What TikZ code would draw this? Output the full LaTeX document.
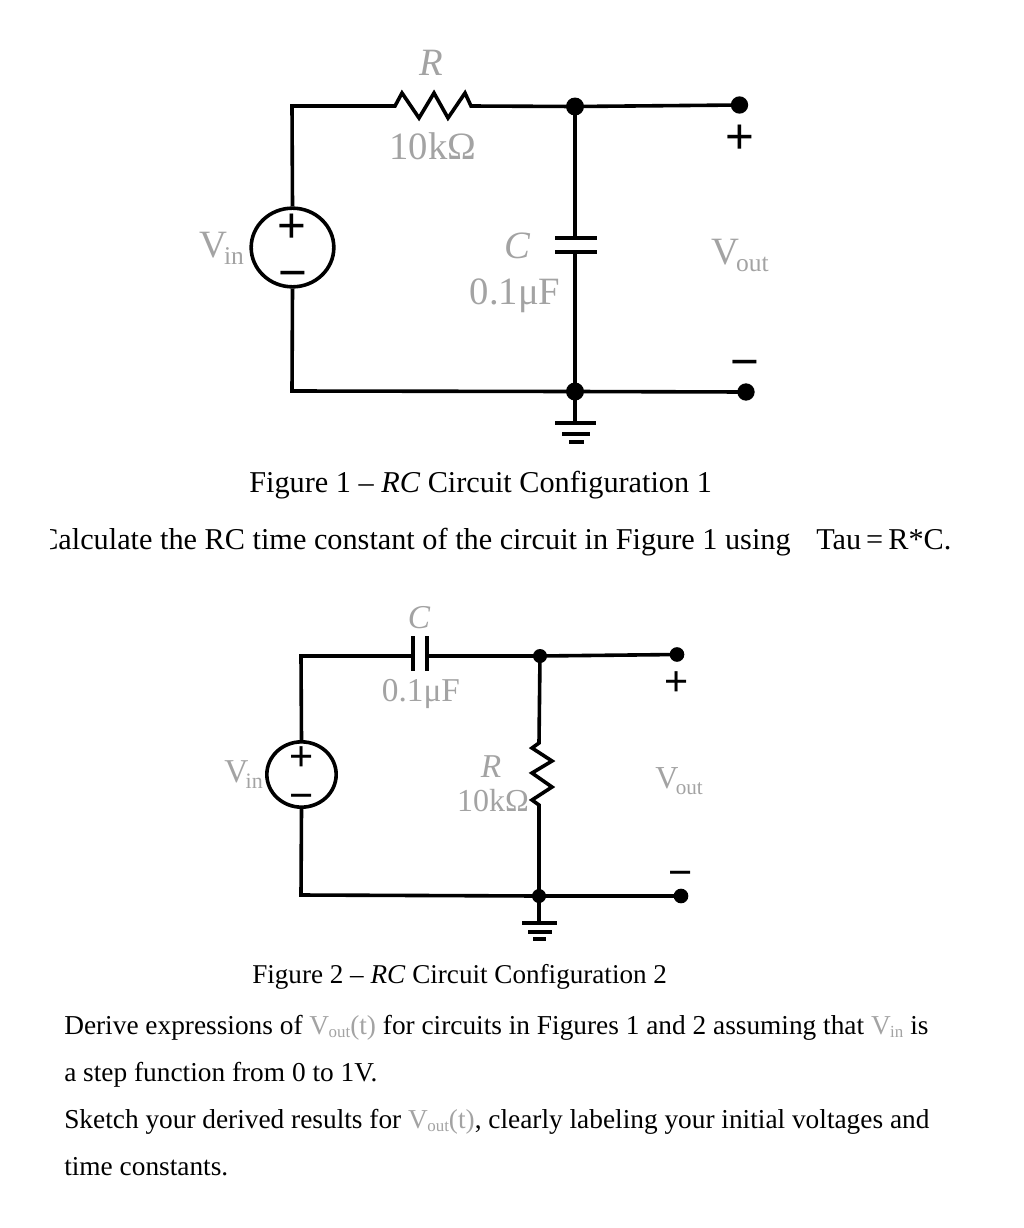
\documentclass[tikz,border=0pt]{standalone}
\usepackage{fontspec}
\setmainfont{Liberation Serif}
\newfontfamily\symfont{Liberation Sans}
\definecolor{lab}{HTML}{A3A3A3}
\newcommand{\subV}[1]{V\kern-0.08em\raisebox{-0.42ex}{\scalebox{0.66}{#1}}}
\newcommand{\gr}[1]{\textcolor{lab}{#1}}
\newcommand{\bodysub}[1]{\gr{V\kern-0.02em\raisebox{-0.3ex}{\scalebox{0.62}{#1}}}}
\tikzset{
  wire/.style={line width=2.7pt,line join=miter,line cap=butt},
  barline/.style={line width=2.9pt},
  dot/.style={circle,fill=black,draw=none,inner sep=0pt,minimum size=#1},
  source/.style={ellipse,draw=black,line width=2.7pt,inner sep=0pt,fill=none},
  complab/.style={text=lab,inner sep=0pt,font=\fontsize{29}{31}\selectfont},
  complabb/.style={text=lab,inner sep=0pt,font=\fontsize{25}{27}\selectfont},
  plusa/.style={anchor=base,yshift=-12.6pt,inner sep=0pt,font=\symfont\fontsize{37}{37}\selectfont},
  plusb/.style={anchor=base,yshift=-10.5pt,inner sep=0pt,font=\symfont\fontsize{31}{31}\selectfont},
  capa/.style={anchor=base west,inner sep=0pt,font=\fontsize{22.7}{25}\selectfont},
  capb/.style={anchor=base west,inner sep=0pt,font=\fontsize{20.35}{22}\selectfont},
  bodyb/.style={anchor=base west,inner sep=0pt,font=\fontsize{20.5}{22}\selectfont},
}
\usetikzlibrary{shapes.geometric}
\begin{document}
\begin{tikzpicture}[x=0.75pt,y=-0.75pt]
\useasboundingbox (0,0) rectangle (1024,1228);
% ---------- Figure 1 ----------
\node[source,minimum width=62pt,minimum height=59pt] (s1) at (292.5,247.5) {};
\node[plusa] (s1p) at (292,226) {+};
\node[plusa] (s1m) at (292.5,273) {−};
\coordinate (tl1) at (292,106);
\coordinate (bl1) at (292,391);
\coordinate (ra) at (395,106);
\coordinate (rb) at (471,106);
\node[dot=13.5pt] (n1t) at (575,106.5) {};
\node[dot=13pt] (t1t) at (739.5,105) {};
\node[dot=13.5pt] (n1b) at (575,391.5) {};
\node[dot=13pt] (t1b) at (746,392) {};
\coordinate (c1a) at (575,238);
\coordinate (c1b) at (575,252);
\coordinate (g1) at (575,423);
\draw[wire] (s1.north) -- (tl1) -- (ra) -- (402,93) -- (419,118) -- (434,93) -- (448,118) -- (465,93) -- (rb) -- (n1t.center) -- (t1t.center);
\draw[wire] (s1.south) -- (bl1) -- (n1b.center) -- (t1b.center);
\draw[wire] (n1t.center) -- (c1a);
\draw[wire] (c1b) -- (n1b.center);
\draw[wire] (n1b.center) -- (g1);
\draw[barline] (555,238) -- (c1a) -- (597,238);
\draw[barline] (555,252) -- (c1b) -- (597,252);
\draw[barline] (555,423) -- (g1) -- (596,423);
\draw[barline] (562,434) -- (590,434);
\draw[barline] (569,442) -- (584,442);
\node[plusa] (t1p) at (739.5,137) {+};
\node[plusa] (t1m) at (744.5,362) {−};
\node[complab,font=\itshape\fontsize{29}{31}\selectfont] (r1l) at (431,63) {R};
\node[complab] (r1v) at (433,146) {10kΩ};
\node[complab,anchor=base west] (vi1) at (199,257) {\subV{in}};
\node[complab,font=\itshape\fontsize{29}{31}\selectfont] (c1l) at (517,246) {C};
\node[complab,anchor=base] (c1v) at (515,304) {0.1μF};
\node[complab,anchor=base west] (vo1) at (711,264) {\subV{out}};
\node[capa] (cap1) at (249,492) {Figure 1 – \textit{RC} Circuit Configuration 1};
\begin{scope}
\clip (50,510) rectangle (1024,570);
\node[capa] (calc) at (38,549) {Calculate the RC time constant of the circuit in Figure 1 using};
\end{scope}
\node[capa] (tau) at (816,549) {Tau\,=\,R*C.};
% ---------- Figure 2 ----------
\node[source,minimum width=52pt,minimum height=49pt] (s2) at (301.5,774.5) {};
\node[plusb] (s2p) at (302,756) {+};
\node[plusb] (s2m) at (302,795) {−};
\coordinate (tl2) at (301,656);
\coordinate (bl2) at (301,895);
\coordinate (c2a) at (413,656);
\coordinate (c2b) at (427,656);
\node[dot=10.5pt] (n2t) at (540,656) {};
\node[dot=11pt] (t2t) at (677,654.5) {};
\node[dot=10.5pt] (n2b) at (539,896) {};
\node[dot=11pt] (t2b) at (681,896) {};
\coordinate (g2) at (539,923);
\coordinate (r2a) at (539,743);
\coordinate (r2b) at (539,805);
\draw[wire] (s2.north) -- (tl2) -- (c2a);
\draw[wire] (c2b) -- (n2t.center) -- (t2t.center);
\draw[wire] (s2.south) -- (bl2) -- (n2b.center) -- (t2b.center);
\draw[wire] (n2t.center) -- (r2a) -- (532,748) -- (552,761) -- (532,773) -- (552,787) -- (532,800) -- (r2b) -- (n2b.center) -- (g2);
\draw[barline] (413,636) -- (c2a) -- (413,671);
\draw[barline] (427,636) -- (c2b) -- (427,671);
\draw[barline] (522,923) -- (g2) -- (557,923);
\draw[barline] (528,932) -- (552,932);
\draw[barline] (533,939) -- (546,939);
\node[plusb] (t2p) at (677,681) {+};
\node[plusb] (t2m) at (681,872) {−};
\node[complabb,font=\itshape\fontsize{25}{27}\selectfont] (c2l) at (419,618) {C};
\node[complabb,anchor=base] (c2v) at (421,701) {0.1μF};
\node[complabb,font=\itshape\fontsize{25}{27}\selectfont] (r2l) at (491,767) {R};
\node[complabb,font=\fontsize{24}{26}\selectfont] (r2v) at (493,801) {10kΩ};
\node[complabb,anchor=base west] (vi2) at (224,782) {\subV{in}};
\node[complabb,anchor=base west,font=\fontsize{24}{26}\selectfont] (vo2) at (655,788) {\subV{out}};
\node[capb] (cap2) at (252,983) {Figure 2 – \textit{RC} Circuit Configuration 2};
\node[bodyb] (l1) at (64,1034) {Derive expressions of \bodysub{out}\gr{(t)} for circuits in Figures 1 and 2 assuming that \bodysub{in} is};
\node[bodyb] (l2) at (64,1081) {a step function from 0 to 1V.};
\node[bodyb] (l3) at (64,1128) {Sketch your derived results for \bodysub{out}\gr{(t)}, clearly labeling your initial voltages and};
\node[bodyb] (l4) at (64,1175) {time constants.};
\end{tikzpicture}
\end{document}
